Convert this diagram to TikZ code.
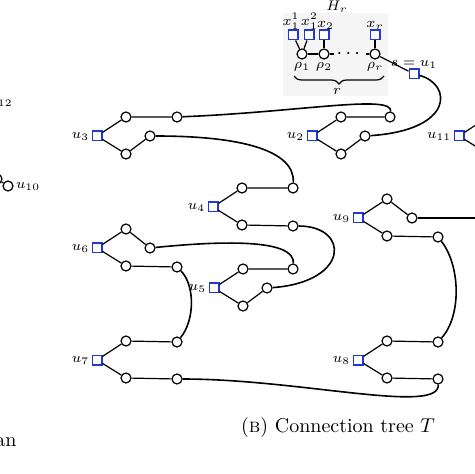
\documentclass[tikz,border=0pt]{standalone}
\usepackage{amsmath}
\usepackage{amssymb}
\usetikzlibrary{decorations.pathreplacing}
\definecolor{termblue}{RGB}{35,55,215}

\begin{document}
\begin{tikzpicture}[x=0.5pt,y=-0.5pt,
  vtx/.style={circle,draw,fill=white,line width=0.6pt,minimum size=5pt,inner sep=0pt},
  term/.style={rectangle,draw=termblue,fill=white,line width=0.9pt,minimum size=4.6pt,inner sep=0pt},
  lbl/.style={font=\fontsize{7.5}{9}\selectfont,inner sep=1pt},
  xlbl/.style={font=\scriptsize,inner sep=0pt},
  edge/.style={line width=0.6pt},
  link/.style={line width=0.8pt}]

\useasboundingbox (0,0) rectangle (474,474);

% the gadget H_r
\fill[black!4] (283,13) rectangle (388,96);
\node[lbl] (Hr) at (337,7) {$H_r$};

\node[term,label={[xlbl,xshift=-1pt]above:$x_1^1$}] (x11) at (293,35) {};
\node[term,label={[xlbl,xshift=0.2pt]above:$x_1^2$}] (x12) at (309,35) {};
\node[term,label={[xlbl,xshift=0.8pt]above:$x_2$}] (x2) at (324,35) {};
\node[term,label={[xlbl]above:$x_r$}] (xr) at (375,35) {};
\node[vtx,label={[lbl]below:$\rho_1$}] (rho1) at (302,54) {};
\node[vtx,label={[lbl]below:$\rho_2$}] (rho2) at (324,54) {};
\node[vtx,label={[lbl]below:$\rho_r$}] (rhor) at (375,54) {};
\node[inner sep=1pt] (dots) at (350,54) {$\cdots$};

\draw[edge] (x11) -- (rho1) -- (x12);
\draw[edge] (x2) -- (rho2);
\draw[edge] (xr) -- (rhor);
\draw[edge] (rho1) -- (rho2) -- (dots) -- (rhor);

\coordinate (brl) at (294,76);
\coordinate (brr) at (384,76);
\draw[edge,decorate,decoration={brace,mirror,amplitude=4pt}] (brl) -- (brr);
\node[lbl] (r) at (337,91) {$r$};

\node[term,label={[lbl,yshift=-1pt]above:$s=u_1$}] (u1) at (414,74) {};
\draw[edge] (rhor) -- (u1);

% the trees of u_2,...,u_9
\foreach \i/\x/\y/\cx/\cy/\dx/\dy in {2/312/136/78/-19/53/0, 3/97/136/80/-19/53/0,
    4/213/207/80/-19/80/19, 5/214/288/79/-19/53/0, 6/97/248/53/0/80/19,
    7/97/360/80/-18/80/19, 8/358/360/80/-18/80/19, 9/358/218/54/0/80/19}{
  \node[term,label={[lbl]left:$u_{\i}$}] (u\i) at (\x,\y) {};
  \node[vtx] (a\i) at (\x+29,\y-19) {};
  \node[vtx] (b\i) at (\x+29,\y+18) {};
  \node[vtx] (c\i) at (\x+\cx,\y+\cy) {};
  \node[vtx] (d\i) at (\x+\dx,\y+\dy) {};
  \draw[edge] (u\i) -- (a\i) -- (c\i);
  \draw[edge] (u\i) -- (b\i) -- (d\i);
}

% connections between the trees
\draw[link] (u1) .. controls (452,84) and (455,130) .. (d2);
\draw[link] (c3) .. controls (300,112) and (393,94) .. (c2);
\draw[link] (d3) .. controls (240,136) and (295,150) .. (c4);
\draw[link] (d4) .. controls (350,226) and (350,282) .. (d5);
\draw[link] (c6) .. controls (230,240) and (295,240) .. (c5);
\draw[link] (d6) .. controls (195,285) and (195,320) .. (c7);
\draw[link] (d7) .. controls (300,379) and (440,415) .. (d8);
\draw[link] (d9) .. controls (460,265) and (462,315) .. (c8);
\coordinate (e9) at (484,218);
\draw[edge] (c9) -- (e9);

% cut off at the border
\node[term,label={[lbl]left:$u_{11}$}] (u11) at (459,136) {};
\coordinate (e11a) at (488,117);
\coordinate (e11b) at (488,154);
\draw[edge] (u11) -- (e11a);
\draw[edge] (u11) -- (e11b);

\node[vtx,label={[lbl]right:$u_{10}$}] (u10) at (8,186) {};
\node[vtx] (w10) at (-3,179) {};
\draw[edge] (w10) -- (u10);
\node[lbl,anchor=east,inner sep=0pt] (u12) at (13,102) {$u_{12}$};

\node[anchor=base east,inner sep=0pt] (capa) at (17,446) {an};
\node[anchor=base,inner sep=0pt] (capb) at (338,432) {(\textsc{b})~Connection tree $T$};

\end{tikzpicture}
\end{document}
